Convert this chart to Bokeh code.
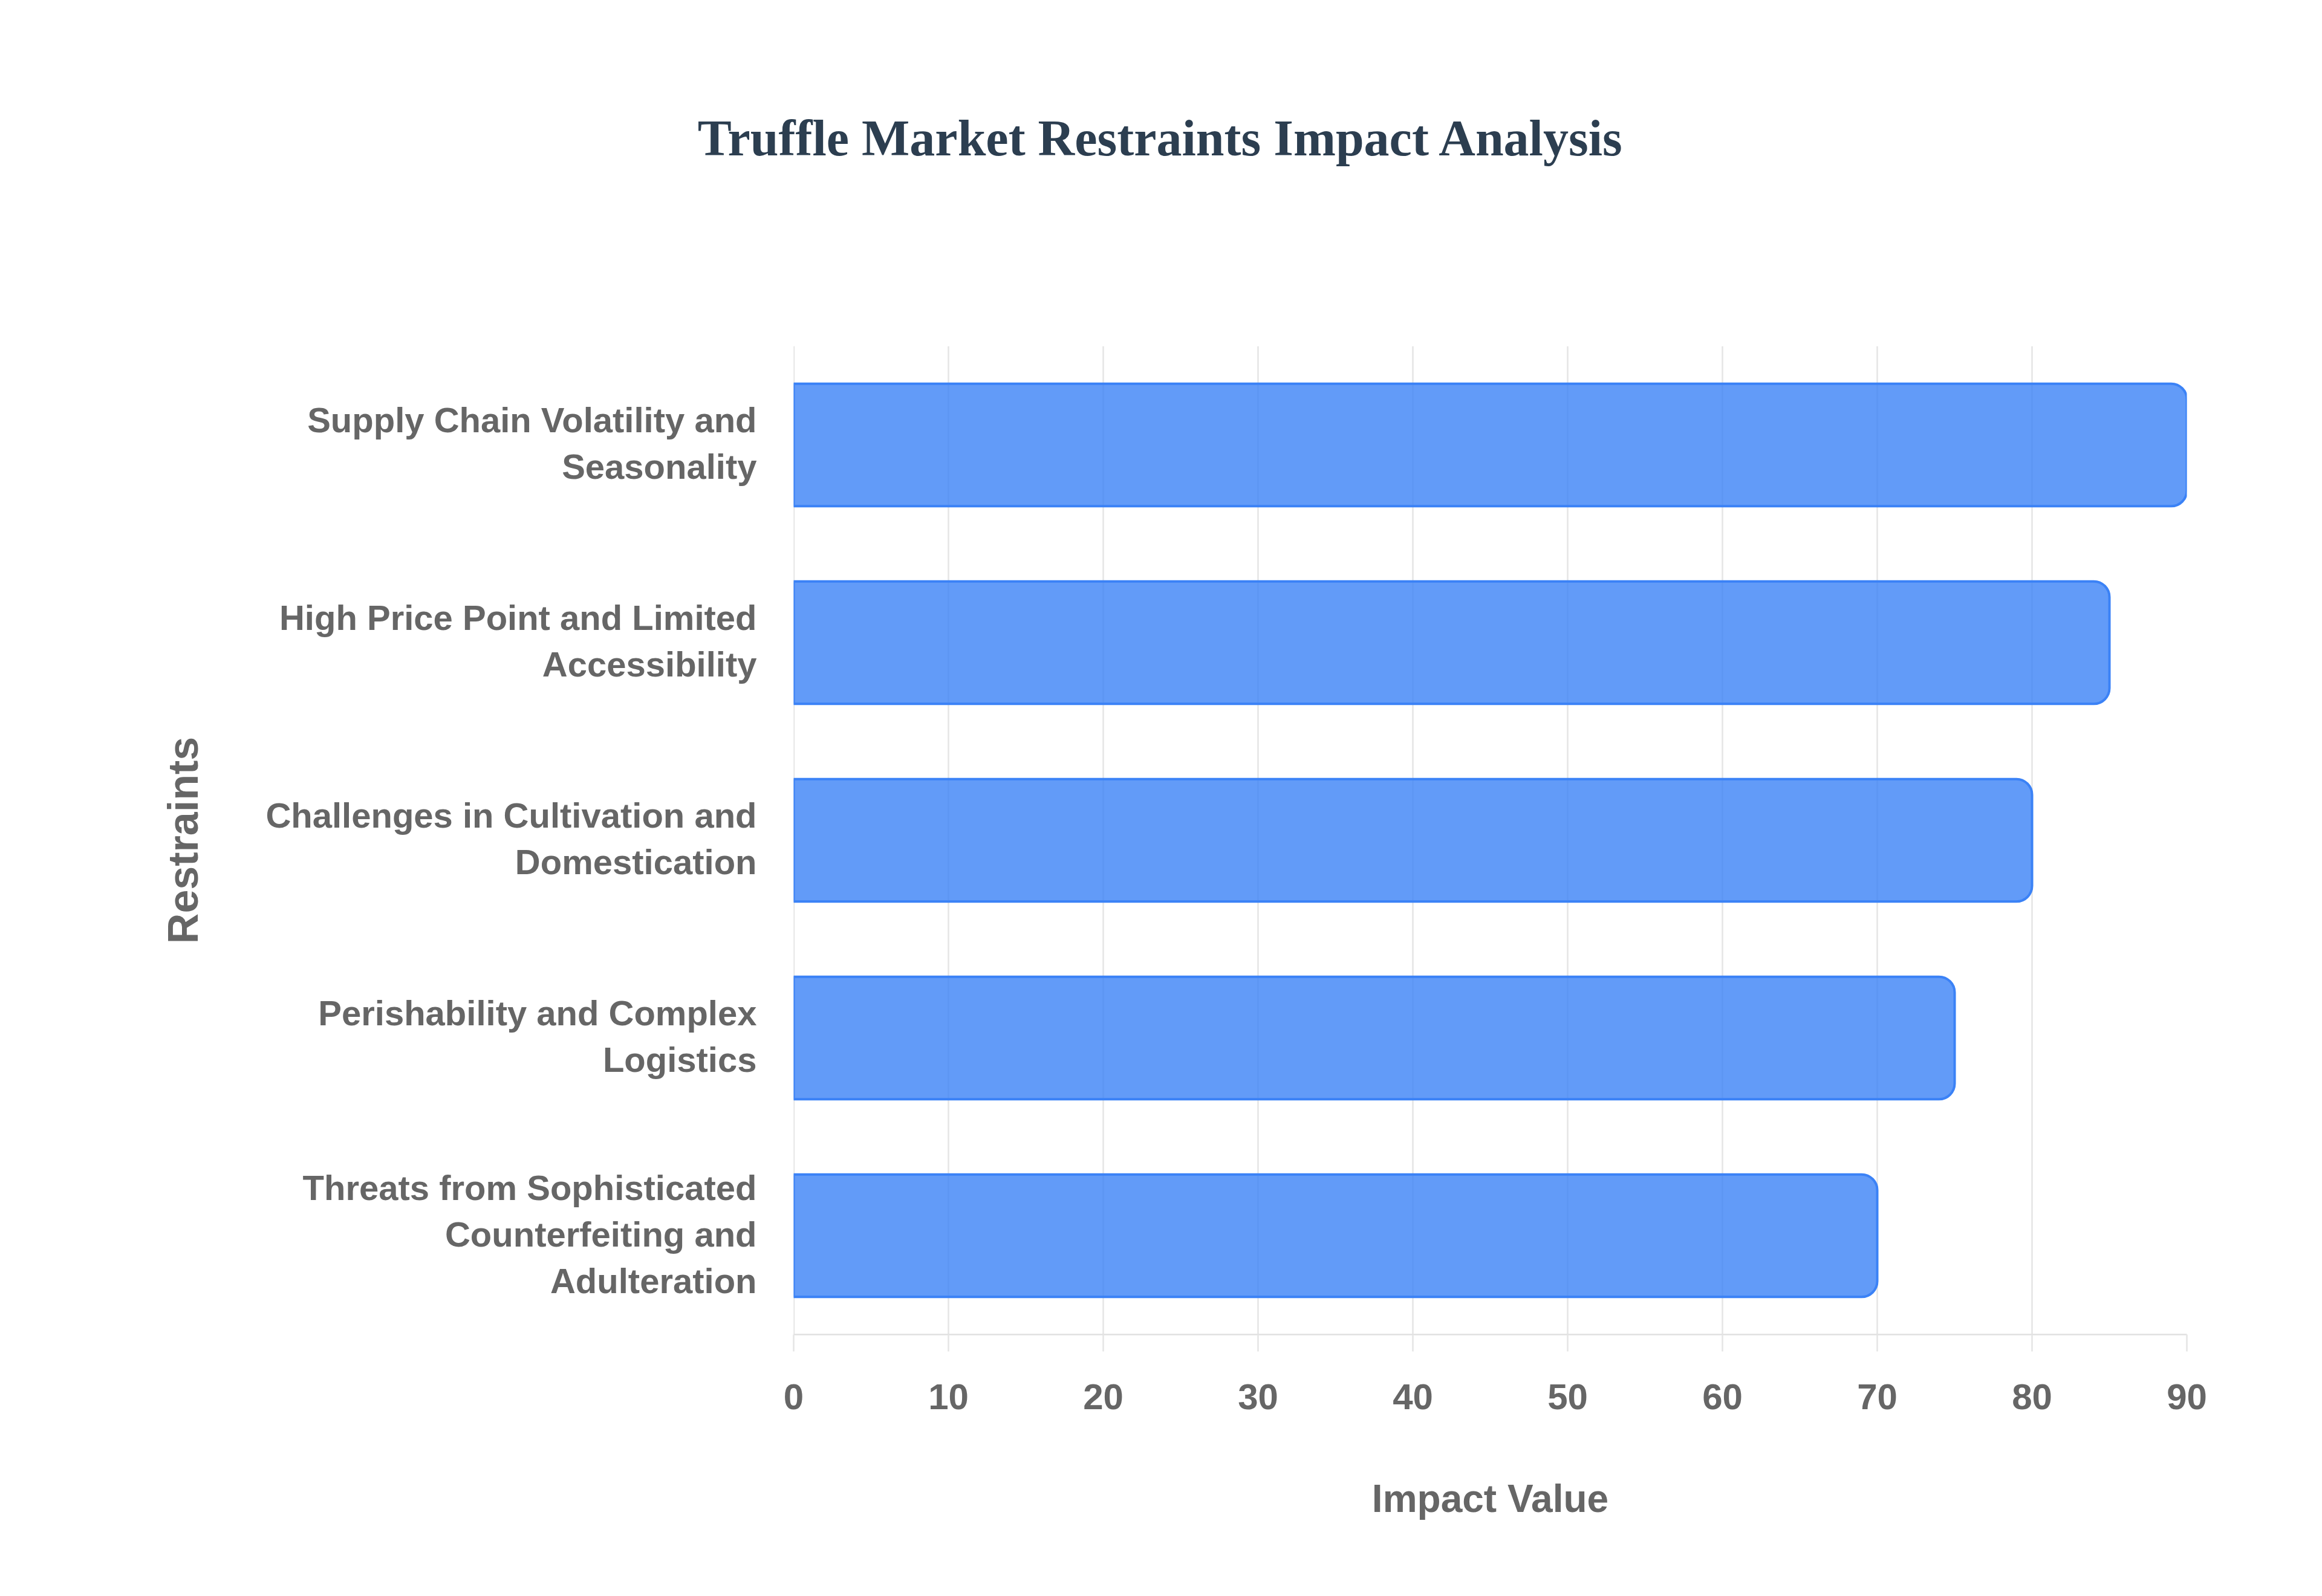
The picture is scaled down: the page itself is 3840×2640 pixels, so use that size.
import math
from bokeh.plotting import figure
from bokeh.layouts import column, row
from bokeh.models import ColumnDataSource, FactorRange, Range1d, FixedTicker, Span
from bokeh.core.properties import value
from bokeh.embed import file_html
from bokeh.resources import INLINE

# ---- data ----
restraints = [
    "Supply Chain Volatility and Seasonality",
    "High Price Point and Limited Accessibility",
    "Challenges in Cultivation and Domestication",
    "Perishability and Complex Logistics",
    "Threats from Sophisticated Counterfeiting and Adulteration",
]
restraint_labels = [
    "Supply Chain Volatility and\nSeasonality",
    "High Price Point and Limited\nAccessibility",
    "Challenges in Cultivation and\nDomestication",
    "Perishability and Complex\nLogistics",
    "Threats from Sophisticated\nCounterfeiting and\nAdulteration",
]
impact_values = [90, 85, 80, 75, 70]
x_ticks = [0, 10, 20, 30, 40, 50, 60, 70, 80, 90]

title_text = "Truffle Market Restraints Impact Analysis"
x_title = "Impact Value"
y_title = "Restraints"

# ---- layout constants (pixels) ----
TOP_H = 572          # band holding the title
LEFT_W = 1272        # band holding category labels + y title
MAIN_W = 2556
MAIN_H = 2060
MAIN_LEFT_B = 40     # room so the "0" tick label is not pushed inward
BOTTOM_B = 425       # space under the plot frame
RIGHT_B = 212
LINE_H = 77          # spacing of wrapped label lines
GREY = "#666666"
TOTAL_W = LEFT_W + MAIN_W

factors = list(reversed(restraints))

# ---------------- title band ----------------
top = figure(width=TOTAL_W, height=TOP_H, x_range=Range1d(0, TOTAL_W),
             y_range=Range1d(0, TOP_H), x_axis_location=None, y_axis_location=None,
             output_backend="svg", toolbar_location=None, title=None,
             min_border=0)
top.outline_line_color = None
top.grid.grid_line_color = None
top.text(x=[1920], y=[TOP_H - 228], text=[title_text],
         text_font=value("Liberation Serif"), text_font_style=value("bold"),
         text_font_size=value("84px"), text_color="#2c3e50",
         text_align=value("center"), text_baseline=value("middle"))

# ---------------- label band ----------------
line_cat, line_text, line_dy = [], [], []
for r, lab in zip(restraints, restraint_labels):
    parts = lab.split("\n")
    n = len(parts)
    for i, t in enumerate(parts):
        line_cat.append(r)
        line_text.append(t)
        line_dy.append((i - (n - 1) / 2) * LINE_H - 3)
label_src = ColumnDataSource(dict(y=line_cat, text=line_text, dy=line_dy))

left = figure(width=LEFT_W, height=MAIN_H, x_range=Range1d(0, LEFT_W),
              y_range=FactorRange(factors=factors), x_axis_location=None,
              y_axis_location=None, output_backend="svg", toolbar_location=None,
              title=None, min_border_left=0, min_border_right=0,
              min_border_top=0, min_border_bottom=BOTTOM_B)
left.outline_line_color = None
left.grid.grid_line_color = None
left.text(x=1251, y="y", text="text", y_offset="dy", source=label_src,
          text_font=value("Liberation Sans"), text_font_style=value("bold"),
          text_font_size=value("58px"), text_color=GREY,
          text_align=value("right"), text_baseline=value("middle"))
left.text(x=[302], y=[restraints[2]], text=[y_title], angle=math.pi / 2,
          text_font=value("Liberation Sans"), text_font_style=value("bold"),
          text_font_size=value("70px"), text_color=GREY,
          text_align=value("center"), text_baseline=value("middle"))

# ---------------- main plot ----------------
source = ColumnDataSource(dict(restraint=restraints, impact=impact_values))

p = figure(
    width=MAIN_W, height=MAIN_H,
    y_range=FactorRange(factors=factors),
    x_range=Range1d(0, 90), y_axis_location=None,
    output_backend="svg", toolbar_location=None, title=None,
    min_border_left=MAIN_LEFT_B, min_border_right=RIGHT_B,
    min_border_top=0, min_border_bottom=BOTTOM_B,
)
p.outline_line_color = None
p.background_fill_color = "white"
p.border_fill_color = "white"

p.ygrid.grid_line_color = None
p.xgrid.grid_line_color = "#e5e5e5"
p.xgrid.grid_line_width = 2.5
p.xgrid.ticker = FixedTicker(ticks=x_ticks)

# y-axis line at the left edge of the frame
p.add_layout(Span(location=0, dimension="height", line_color="#e0e0e0",
                  line_width=3, level="underlay"))

p.hbar(y="restraint", right="impact", left=0, height=0.62, source=source,
       fill_color="#3B82F6", fill_alpha=0.8,
       line_color="#3B82F6", line_width=4,
       border_radius=(0, 26, 26, 0))

xa = p.xaxis[0]
xa.ticker = FixedTicker(ticks=x_ticks)
xa.axis_line_color = "#e0e0e0"
xa.axis_line_width = 2.5
xa.major_tick_line_color = "#e5e5e5"
xa.major_tick_line_width = 2.5
xa.major_tick_in = 0
xa.major_tick_out = 28
xa.minor_tick_line_color = None
xa.major_label_text_font = "Liberation Sans"
xa.major_label_text_font_style = "bold"
xa.major_label_text_font_size = "60px"
xa.major_label_text_color = GREY
xa.major_label_standoff = 54
xa.axis_label = x_title
xa.axis_label_text_font = "Liberation Sans"
xa.axis_label_text_font_style = "bold"
xa.axis_label_text_font_size = "64px"
xa.axis_label_text_color = GREY
xa.axis_label_standoff = 109

layout = column(top, row(left, p, spacing=0), spacing=0)

open("out.html", "w").write(file_html(layout, INLINE))
